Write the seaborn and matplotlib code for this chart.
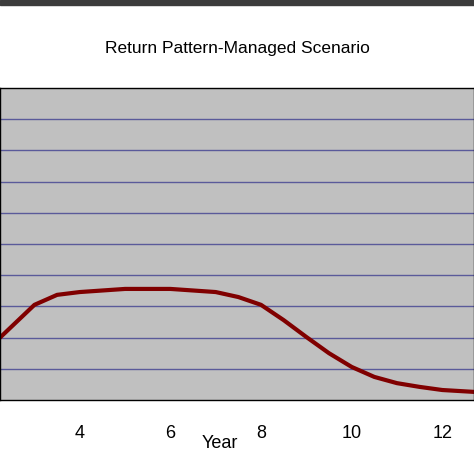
import matplotlib
matplotlib.use("Agg")
import matplotlib.pyplot as plt
import seaborn as sns
import pandas as pd

# Values (y in gridline units)
years = [2.24, 3, 3.5, 4, 5, 6, 7, 7.5, 8, 8.5, 9, 9.5, 10, 10.5, 11, 11.5, 12, 12.7]
returns = [2.0, 3.05, 3.37, 3.46, 3.56, 3.56, 3.46, 3.3, 3.05, 2.56, 2.02, 1.5, 1.06, 0.74, 0.54, 0.42, 0.32, 0.26]
xticks = [4, 6, 8, 10, 12]

df = pd.DataFrame({'year': years, 'value': returns})

sns.set_theme(style="white")
plt.rcParams['font.family'] = ['Liberation Sans', 'DejaVu Sans']
plt.rcParams['text.color'] = 'black'
plt.rcParams['xtick.color'] = 'black'

fig = plt.figure(figsize=(4.74, 4.74), dpi=100)
ax = fig.add_axes([0, 74 / 474, 1, (400 - 88) / 474])
ax.set_facecolor('#c0c0c0')

sns.lineplot(data=df, x='year', y='value', ax=ax, color='#800000', linewidth=3)

ax.set_xlim(2.24, 12.7)
ax.set_ylim(0, 10)
ax.set_xticks(xticks)
ax.set_xticklabels([str(t) for t in xticks], fontsize=13, color='black')
ax.set_yticks(range(1, 10))
ax.set_yticklabels([])
ax.yaxis.grid(True, color='#5a5a9a', linewidth=1)
ax.tick_params(axis='x', length=4, color='black', pad=14)
ax.tick_params(axis='y', length=0)
for s in ax.spines.values():
    s.set_color('black')
    s.set_linewidth(1)
ax.set_xlabel('')
ax.set_ylabel('')

fig.text(220 / 474, 1 - 443 / 474, 'Year', ha='center', va='center', fontsize=13, color='black')
fig.text(0.5, 1 - 48 / 474, 'Return Pattern-Managed Scenario', ha='center', va='center',
         fontsize=12.5, color='black')
fig.patches.append(plt.Rectangle((0, 1 - 5 / 474), 1, 5 / 474, transform=fig.transFigure,
                                 color='#3c3c3c', zorder=5))

fig.savefig('out.png', dpi=100)
